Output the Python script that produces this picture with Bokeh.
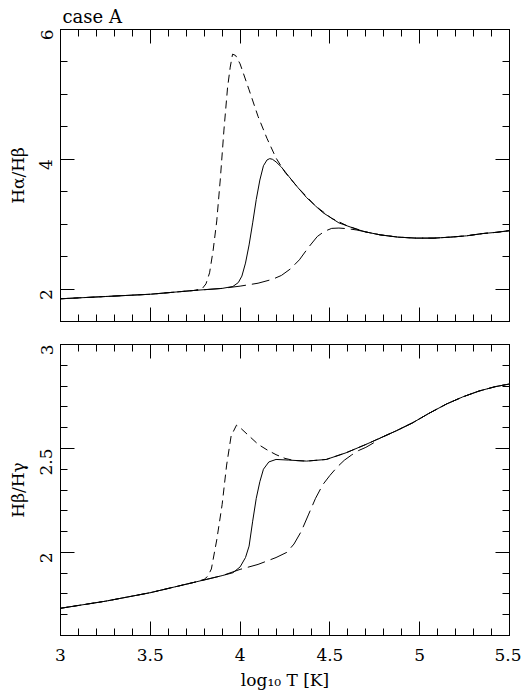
import math
from bokeh.plotting import figure
from bokeh.models import LinearAxis, SingleIntervalTicker, Range1d
from bokeh.layouts import column
from bokeh.embed import file_html
from bokeh.resources import INLINE

# ---------------- data ----------------
# top panel: H-alpha / H-beta
# common low-temperature branch (all three curves coincide)
a_low_x = [3.00, 3.25, 3.50, 3.75]
a_low_y = [1.85, 1.885, 1.92, 1.98]
# common high-temperature tail
a_tail_x = [4.78, 4.88, 4.98, 5.08, 5.17, 5.26, 5.35, 5.43, 5.50]
a_tail_y = [2.835, 2.80, 2.785, 2.785, 2.80, 2.82, 2.855, 2.875, 2.90]

a_solid_x = [3.90, 3.96, 3.99, 4.01, 4.03, 4.05, 4.07, 4.09, 4.11, 4.13, 4.15, 4.165,
             4.18, 4.20, 4.23, 4.27, 4.32, 4.37, 4.42, 4.46, 4.51, 4.55, 4.60, 4.65, 4.70]
a_solid_y = [2.01, 2.04, 2.10, 2.20, 2.40, 2.68, 3.02, 3.38, 3.68, 3.90, 3.99, 4.01,
             4.00, 3.96, 3.88, 3.74, 3.57, 3.41, 3.28, 3.18, 3.09, 3.02, 2.97, 2.92, 2.88]

a_short_x = [3.79, 3.81, 3.83, 3.85, 3.87, 3.89, 3.91, 3.93, 3.945, 3.958, 3.975, 4.00,
             4.05, 4.10, 4.15, 4.20, 4.25, 4.32, 4.42, 4.51, 4.60, 4.70]
a_short_y = [2.01, 2.08, 2.25, 2.60, 3.05, 3.70, 4.45, 5.10, 5.42, 5.62, 5.60, 5.47,
             5.07, 4.66, 4.32, 4.02, 3.80, 3.57, 3.28, 3.09, 2.97, 2.88]

a_long_x = [3.90, 4.00, 4.10, 4.18, 4.23, 4.28, 4.33, 4.38, 4.43, 4.47, 4.51, 4.55,
            4.60, 4.65, 4.70]
a_long_y = [2.01, 2.045, 2.09, 2.15, 2.21, 2.31, 2.45, 2.64, 2.81, 2.89, 2.935, 2.94,
            2.93, 2.91, 2.88]

# bottom panel: H-beta / H-gamma
b_low_x = [3.00, 3.25, 3.50, 3.75]
b_low_y = [1.731, 1.765, 1.806, 1.857]
b_tail_x = [4.78, 4.87, 4.96, 5.05, 5.15, 5.24, 5.33, 5.42, 5.50]
b_tail_y = [2.55, 2.585, 2.623, 2.668, 2.714, 2.748, 2.776, 2.797, 2.81]

b_solid_x = [3.90, 3.96, 4.00, 4.03, 4.05, 4.07, 4.09, 4.11, 4.13, 4.16, 4.20, 4.27,
             4.37, 4.48, 4.59, 4.70]
b_solid_y = [1.888, 1.902, 1.93, 1.975, 2.03, 2.15, 2.26, 2.34, 2.40, 2.435, 2.447, 2.444,
             2.439, 2.447, 2.479, 2.519]

b_short_x = [3.80, 3.82, 3.84, 3.87, 3.90, 3.925, 3.95, 3.98, 4.00, 4.05, 4.10, 4.15,
             4.20, 4.25, 4.30, 4.37, 4.48, 4.59, 4.70]
b_short_y = [1.87, 1.885, 1.92, 2.06, 2.23, 2.42, 2.56, 2.612, 2.60, 2.56, 2.52, 2.493,
             2.47, 2.452, 2.442, 2.439, 2.447, 2.479, 2.519]

b_long_x = [3.90, 4.00, 4.10, 4.20, 4.26, 4.30, 4.34, 4.38, 4.42, 4.46, 4.50, 4.54,
            4.58, 4.62, 4.66, 4.70, 4.74]
b_long_y = [1.888, 1.918, 1.942, 1.975, 2.00, 2.04, 2.10, 2.18, 2.26, 2.325, 2.37, 2.41,
            2.443, 2.468, 2.49, 2.505, 2.525]

# axes
x_ticks = [3.0, 3.5, 4.0, 4.5, 5.0, 5.5]
x_tick_labels = ["3", "3.5", "4", "4.5", "5", "5.5"]
a_y_ticks = [2.0, 4.0, 6.0]
a_y_tick_labels = ["2", "4", "6"]
b_y_ticks = [2.0, 2.5, 3.0]
b_y_tick_labels = ["2", "2.5", "3"]

x_label = "log\u2081\u2080 T [K]"
a_y_label = "H\u03b1/H\u03b2"
b_y_label = "H\u03b2/H\u03b3"
title_text = "case A"

FONT = "DejaVu Serif"
TICK_SIZE = "17px"
LABEL_SIZE = "17px"
SHORT_DASH = "8 5"
LONG_DASH = "18 6"


def style_axis(ax, show_labels, overrides=None):
    ax.axis_line_color = "black"
    ax.axis_line_width = 1
    ax.major_tick_in = 14
    ax.major_tick_out = 0
    ax.minor_tick_in = 7
    ax.minor_tick_out = 0
    ax.major_tick_line_color = "black"
    ax.minor_tick_line_color = "black"
    ax.major_label_text_font = FONT
    ax.axis_label_text_font = FONT
    ax.axis_label_text_font_style = "normal"
    ax.axis_label_text_font_size = LABEL_SIZE
    ax.axis_label_text_color = "black"
    if show_labels:
        ax.major_label_text_font_size = TICK_SIZE
        ax.major_label_text_color = "black"
        if overrides:
            ax.major_label_overrides = overrides
    else:
        ax.major_label_text_font_size = "0px"
        ax.major_label_text_color = None
        ax.major_label_standoff = 0


def make_fig(y0, y1, fh, top, bottom):
    p = figure(x_range=Range1d(3.0, 5.5), y_range=Range1d(y0, y1),
               frame_width=449, frame_height=fh,
               min_border_left=60, min_border_right=12,
               min_border_top=top, min_border_bottom=bottom,
               output_backend="svg", toolbar_location=None)
    p.xgrid.visible = False
    p.ygrid.visible = False
    p.outline_line_color = "black"
    p.background_fill_color = "white"
    p.border_fill_color = "white"
    return p


def left_axis(ticker, label, overrides):
    ax = LinearAxis(ticker=ticker, axis_label=label,
                    major_label_orientation=math.pi / 2)
    style_axis(ax, True, overrides)
    ax.major_label_standoff = 14
    ax.axis_label_standoff = 4
    return ax


xt = lambda: SingleIntervalTicker(interval=0.5, num_minor_ticks=5)
yt1 = lambda: SingleIntervalTicker(interval=2.0, num_minor_ticks=4)
yt2 = lambda: SingleIntervalTicker(interval=0.5, num_minor_ticks=5)

# ---------------- top panel ----------------
p1 = make_fig(1.5, 6.0, 292, 29, 11)
p1.yaxis.visible = False
p1.title.text = title_text
p1.title.text_font = FONT
p1.title.text_font_size = "18px"
p1.title.text_font_style = "normal"
p1.title.text_color = "black"
p1.title.align = "left"
p1.title.offset = 2
p1.title.standoff = 5

p1.xaxis.ticker = xt()
style_axis(p1.xaxis[0], False)
p1.add_layout(left_axis(yt1(), a_y_label, dict(zip(a_y_ticks, a_y_tick_labels))), "left")

ax = LinearAxis(ticker=xt())
style_axis(ax, False)
p1.add_layout(ax, "above")
ay = LinearAxis(ticker=yt1())
style_axis(ay, False)
p1.add_layout(ay, "right")

p1.line(a_low_x + a_solid_x + a_tail_x, a_low_y + a_solid_y + a_tail_y,
        line_color="black", line_width=1)
p1.line(a_low_x + a_short_x + a_tail_x, a_low_y + a_short_y + a_tail_y,
        line_color="black", line_width=1, line_dash=SHORT_DASH)
p1.line(a_low_x + a_long_x + a_tail_x, a_low_y + a_long_y + a_tail_y,
        line_color="black", line_width=1, line_dash=LONG_DASH)

# ---------------- bottom panel ----------------
p2 = make_fig(1.6, 3.0, 291, 12, 56)
p2.yaxis.visible = False

p2.xaxis.ticker = xt()
p2.xaxis.axis_label = x_label
style_axis(p2.xaxis[0], True, dict(zip(x_ticks, x_tick_labels)))
p2.xaxis.major_label_standoff = 13
p2.xaxis.axis_label_standoff = 6
p2.add_layout(left_axis(yt2(), b_y_label, dict(zip(b_y_ticks, b_y_tick_labels))), "left")

ax2 = LinearAxis(ticker=xt())
style_axis(ax2, False)
p2.add_layout(ax2, "above")
ay2 = LinearAxis(ticker=yt2())
style_axis(ay2, False)
p2.add_layout(ay2, "right")

p2.line(b_low_x + b_solid_x + b_tail_x, b_low_y + b_solid_y + b_tail_y,
        line_color="black", line_width=1)
p2.line(b_low_x + b_short_x + b_tail_x, b_low_y + b_short_y + b_tail_y,
        line_color="black", line_width=1, line_dash=SHORT_DASH)
p2.line(b_low_x + b_long_x + b_tail_x, b_low_y + b_long_y + b_tail_y,
        line_color="black", line_width=1, line_dash=LONG_DASH)

layout = column(p1, p2, spacing=0)
open("out.html", "w").write(file_html(layout, INLINE))
